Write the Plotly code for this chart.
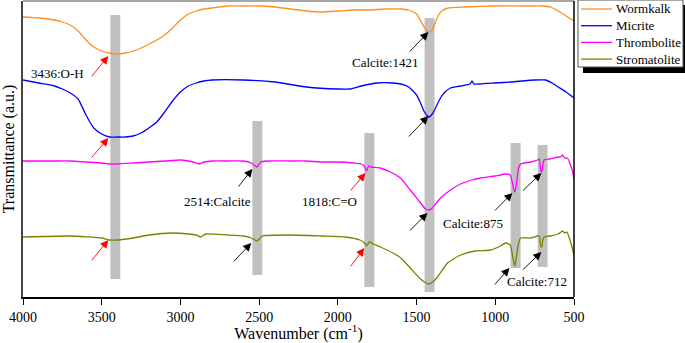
import plotly.graph_objects as go

# ---------------- data ----------------
wormkalk_wn = [4000, 3900, 3800, 3750, 3700, 3650, 3600, 3550, 3500, 3450, 3400, 3350, 3300, 3250, 3200, 3150, 3100,
               3050, 3000, 2950, 2900, 2850, 2800, 2700, 2600, 2500, 2400, 2300, 2200, 2100, 2000, 1900, 1800, 1700,
               1600, 1550, 1500, 1470, 1440, 1421, 1400, 1380, 1360, 1340, 1300, 1200, 1000, 800, 700, 650, 600, 550, 500]
wormkalk_t = [2.80, 2.79, 2.77, 2.75, 2.72, 2.66, 2.57, 2.50, 2.46, 2.44, 2.43, 2.44, 2.46, 2.49, 2.53, 2.57, 2.62,
              2.69, 2.77, 2.83, 2.86, 2.88, 2.89, 2.91, 2.91, 2.91, 2.90, 2.88, 2.86, 2.85, 2.86, 2.87, 2.87, 2.88,
              2.88, 2.87, 2.83, 2.75, 2.67, 2.65, 2.67, 2.75, 2.82, 2.86, 2.89, 2.90, 2.91, 2.91, 2.91, 2.90, 2.86, 2.81, 2.76]

micrite_wn = [4000, 3900, 3800, 3750, 3700, 3650, 3600, 3550, 3500, 3450, 3400, 3350, 3300, 3250, 3200, 3150, 3100,
              3050, 3000, 2950, 2900, 2850, 2800, 2600, 2400, 2200, 2000, 1921, 1850, 1750, 1650, 1600, 1550, 1500,
              1475, 1450, 1430, 1421, 1400, 1380, 1348, 1320, 1284, 1220, 1160, 1148, 1135, 1100, 1000, 900, 750,
              680, 640, 600, 550, 500]
micrite_t = [2.17, 2.14, 2.11, 2.08, 2.04, 1.98, 1.82, 1.69, 1.63, 1.60, 1.60, 1.60, 1.61, 1.64, 1.69, 1.75, 1.85,
             1.96, 2.05, 2.11, 2.14, 2.16, 2.17, 2.17, 2.15, 2.10, 2.08, 2.08, 2.11, 2.14, 2.14, 2.13, 2.10, 2.02,
             1.94, 1.85, 1.81, 1.80, 1.83, 1.89, 1.99, 2.05, 2.09, 2.11, 2.13, 2.16, 2.13, 2.13, 2.14, 2.15, 2.17,
             2.17, 2.14, 2.10, 2.05, 1.99]

thrombolite_wn = [4000, 3900, 3800, 3700, 3600, 3500, 3450, 3400, 3300, 3200, 3100, 3000, 2950, 2920, 2880, 2850,
                  2800, 2700, 2600, 2550, 2514, 2490, 2450, 2300, 2200, 2100, 2000, 1900, 1850, 1832, 1818, 1805,
                  1790, 1730, 1667, 1603, 1540, 1475, 1443, 1421, 1400, 1380, 1348, 1284, 1221, 1150, 1094, 1000,
                  935, 905, 890, 880, 875, 865, 852, 839, 775, 731, 720, 712, 705, 698, 690, 652, 600, 585, 572,
                  560, 545, 534, 520, 508, 500]
thrombolite_t = [1.36, 1.36, 1.36, 1.36, 1.35, 1.34, 1.33, 1.33, 1.34, 1.35, 1.36, 1.37, 1.36, 1.35, 1.33, 1.35,
                 1.36, 1.36, 1.36, 1.34, 1.30, 1.35, 1.36, 1.36, 1.36, 1.35, 1.35, 1.34, 1.33, 1.31, 1.26, 1.31,
                 1.30, 1.29, 1.25, 1.19, 1.07, 0.94, 0.88, 0.87, 0.89, 0.93, 0.99, 1.07, 1.13, 1.17, 1.19, 1.21,
                 1.23, 1.22, 1.13, 1.06, 1.05, 1.14, 1.29, 1.33, 1.35, 1.37, 1.38, 1.27, 1.25, 1.32, 1.37, 1.38,
                 1.40, 1.40, 1.42, 1.39, 1.39, 1.37, 1.31, 1.25, 1.18]

stromatolite_wn = [4000, 3700, 3500, 3450, 3400, 3300, 3200, 3050, 2950, 2900, 2870, 2840, 2700, 2600, 2550, 2514,
                   2480, 2300, 2100, 1950, 1860, 1830, 1818, 1800, 1774, 1730, 1650, 1600, 1540, 1475, 1440, 1421,
                   1390, 1367, 1303, 1220, 1130, 1030, 967, 935, 905, 890, 880, 875, 865, 852, 839, 775, 731, 720,
                   712, 705, 698, 690, 652, 600, 572, 560, 545, 534, 520, 508, 500]
stromatolite_t = [0.60, 0.61, 0.59, 0.57, 0.57, 0.59, 0.62, 0.64, 0.63, 0.62, 0.60, 0.63, 0.62, 0.61, 0.59, 0.56,
                  0.61, 0.62, 0.61, 0.60, 0.57, 0.54, 0.51, 0.55, 0.53, 0.50, 0.44, 0.39, 0.29, 0.18, 0.14, 0.13,
                  0.16, 0.20, 0.34, 0.42, 0.46, 0.47, 0.51, 0.54, 0.52, 0.41, 0.33, 0.31, 0.41, 0.54, 0.59, 0.59,
                  0.61, 0.61, 0.51, 0.50, 0.57, 0.60, 0.61, 0.63, 0.66, 0.64, 0.65, 0.61, 0.54, 0.47, 0.42]

series_names = ["Wormkalk", "Micrite", "Thrombolite", "Stromatolite"]
series_colors = ["#FF8F1F", "#0000FF", "#FF00FF", "#808000"]

# highlighted bands (wavenumber left/right edge, transmittance bottom/top)
band_left = [3445, 2543, 1832, 1449, 903, 731]
band_right = [3382, 2480, 1768, 1386, 839, 668]
band_bottom = [0.18, 0.22, 0.10, 0.05, 0.29, 0.30]
band_top = [2.82, 1.76, 1.64, 2.79, 1.54, 1.52]

# arrows (head at wavenumber/transmittance)
arrow_wn = [3458, 3458, 3458, 2543, 2550, 1825, 1832, 1425, 1425, 1431, 891, 910, 707, 707]
arrow_t = [2.41, 1.59, 0.57, 1.28, 0.54, 1.24, 0.49, 2.65, 1.81, 0.84, 1.04, 0.29, 1.24, 0.45]
arrow_dx = [-18, -18, -18, -15, -19, -16, -15, -20, -21, -19, -19, -16, -20, -20]
arrow_dy = [22, 21, 22, 19, 20, 19, 20, 21, 22, 19, 19, 18, 19, 19]
arrow_col = ["red", "red", "red", "black", "black", "red", "red",
             "black", "black", "black", "black", "black", "black", "black"]

label_text = ["3436:O-H", "Calcite:1421", "2514:Calcite", "1818:C=O", "Calcite:875", "Calcite:712"]
label_wn = [3782, 1698, 2766, 2054, 1139, 733]
label_t = [2.24, 2.35, 0.96, 0.96, 0.74, 0.16]

FONT = "Liberation Serif"

W, H = 685, 343
ML, MR, MT, MB = 23, 111, 1, 46
PW, PH = W - ML - MR, H - MT - MB


def px_x(px):
    return (px - ML) / PW


def px_y(py):
    return 1 - (py - MT) / PH


fig = go.Figure()
for name, wn, t, col in zip(series_names,
                            [wormkalk_wn, micrite_wn, thrombolite_wn, stromatolite_wn],
                            [wormkalk_t, micrite_t, thrombolite_t, stromatolite_t],
                            series_colors):
    fig.add_trace(go.Scatter(x=wn, y=t, mode="lines", name=name, showlegend=False,
                             line=dict(color=col, width=1.3, shape="spline", smoothing=0.5)))

shapes = []
for x0, x1, y0, y1 in zip(band_left, band_right, band_bottom, band_top):
    shapes.append(dict(type="rect", xref="x", yref="y", x0=x0, x1=x1, y0=y0, y1=y1,
                       fillcolor="#C0C0C0", line=dict(width=0), layer="below"))
# frame top and right
shapes.append(dict(type="line", xref="paper", yref="paper", x0=0, x1=1, y0=1, y1=1,
                   line=dict(color="#8a8a8a", width=1.5)))
shapes.append(dict(type="line", xref="paper", yref="paper", x0=1, x1=1, y0=0, y1=1,
                   line=dict(color="black", width=1.5)))

annotations = []
# legend (box with drop shadow, line samples, names)
shapes.append(dict(type="rect", xref="paper", yref="paper", x0=px_x(583), x1=px_x(690),
                   y0=px_y(73), y1=px_y(5), fillcolor="black", line=dict(width=0)))
shapes.append(dict(type="rect", xref="paper", yref="paper", x0=px_x(578), x1=px_x(683),
                   y0=px_y(67), y1=px_y(0), fillcolor="white", line=dict(color="#555", width=1)))
for i, (name, col) in enumerate(zip(series_names, series_colors)):
    yy = px_y(9 + i * 16.7)
    shapes.append(dict(type="line", xref="paper", yref="paper", x0=px_x(581), x1=px_x(612),
                       y0=yy, y1=yy, line=dict(color=col, width=1.3)))
    annotations.append(dict(x=px_x(614), y=yy, xref="paper", yref="paper", text=name,
                            xanchor="left", yanchor="middle", showarrow=False,
                            font=dict(family=FONT, size=13, color="black")))

for x, y, dx, dy, c in zip(arrow_wn, arrow_t, arrow_dx, arrow_dy, arrow_col):
    annotations.append(dict(x=x, y=y, xref="x", yref="y", ax=dx, ay=dy, text="",
                            showarrow=True, arrowhead=2, arrowsize=1.8, arrowwidth=0.9,
                            arrowcolor=c, standoff=0, startstandoff=0))
for txt, x, y in zip(label_text, label_wn, label_t):
    annotations.append(dict(x=x, y=y, xref="x", yref="y", text=txt, showarrow=False,
                            font=dict(family=FONT, size=13, color="black")))

fig.update_layout(
    width=W, height=H,
    margin=dict(l=ML, r=MR, t=MT, b=MB, autoexpand=False),
    paper_bgcolor="white", plot_bgcolor="white",
    font=dict(family=FONT, color="black"),
    shapes=shapes, annotations=annotations,
    showlegend=False,
    xaxis=dict(range=[4000, 500], tickvals=[4000, 3500, 3000, 2500, 2000, 1500, 1000, 500],
               ticks="outside", ticklen=6, tickcolor="black", showline=True, linecolor="black",
               linewidth=1.5, showgrid=False, zeroline=False, automargin=False,
               tickfont=dict(family=FONT, size=14),
               title=dict(text="Wavenumber (cm<sup>-1</sup>)", font=dict(family=FONT, size=16), standoff=6)),
    yaxis=dict(range=[0, 2.96], showticklabels=False, showgrid=False, zeroline=False,
               showline=True, linecolor="#444", linewidth=1.5, ticks="", automargin=False,
               title=dict(text="Transmittance (a.u.)", font=dict(family=FONT, size=16), standoff=4)),
)

fig.write_html("out.html", config={"displayModeBar": False},
               post_script="document.body.style.margin='0';")
